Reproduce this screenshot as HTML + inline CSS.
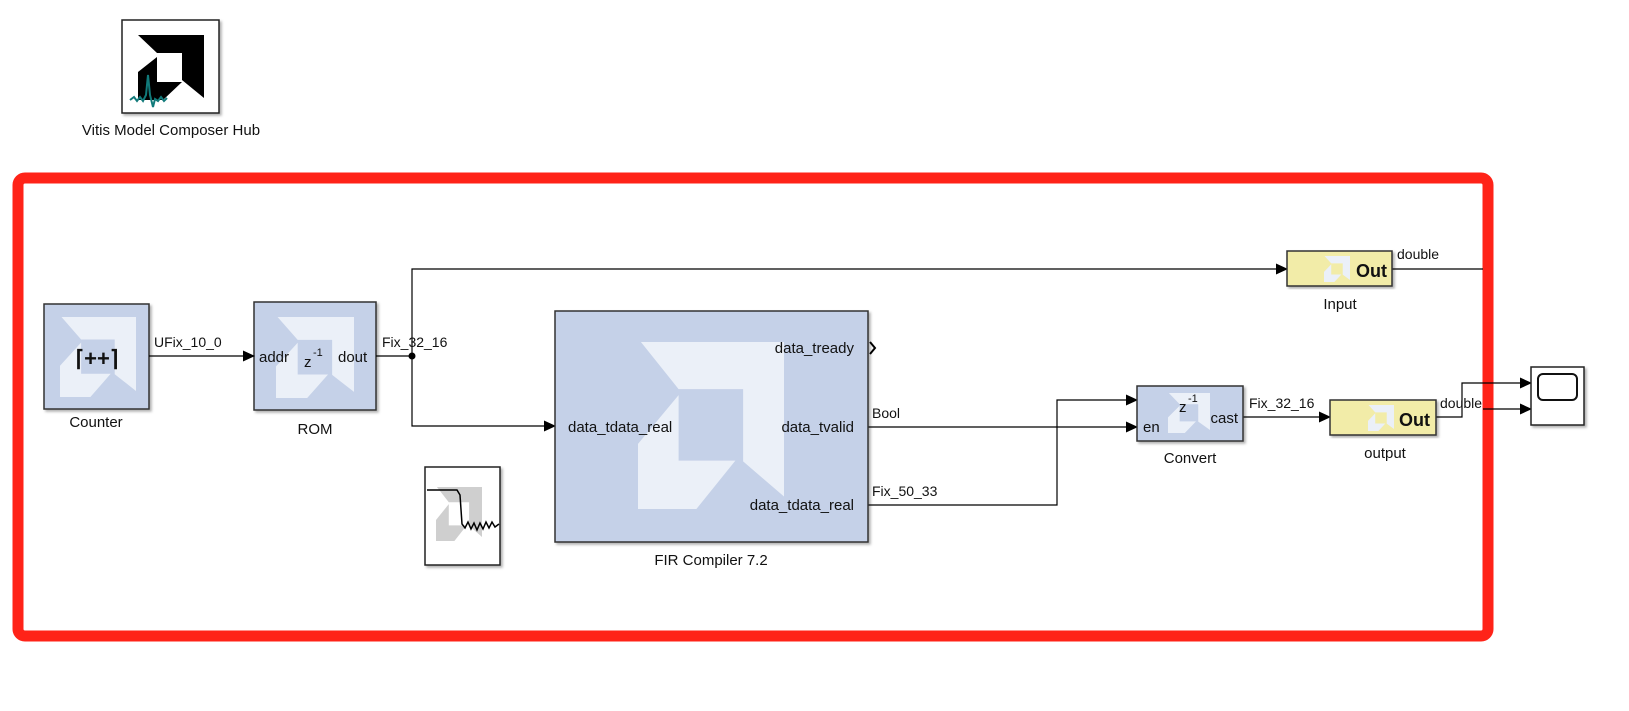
<!DOCTYPE html>
<html><head><meta charset="utf-8"><style>
body{margin:0;background:#fff;}
svg text{font-family:"Liberation Sans",sans-serif;fill:#111;}
</style></head><body>
<svg width="1629" height="706" viewBox="0 0 1629 706" xmlns="http://www.w3.org/2000/svg">
<defs>
<symbol id="logo" viewBox="0 0 1 1" preserveAspectRatio="none">
<polygon points="0.02,0 1,0 1,0.925 0.72,0.715 0.72,0.282 0.278,0.282"/>
<polygon points="0.278,0.318 0.278,0.71 0.667,0.71 0.4,1 0,1 0,0.61"/>
</symbol>
<filter id="sh" x="-5%" y="-5%" width="115%" height="115%"><feDropShadow dx="2" dy="2" stdDeviation="1.2" flood-color="#000" flood-opacity="0.3"/></filter>
<marker id="ar" markerWidth="12" markerHeight="12" refX="11" refY="6" orient="auto" markerUnits="userSpaceOnUse"><polygon points="0,0.5 12,6 0,11.5" fill="#000"/></marker>
</defs>

<!-- Hub -->
<rect x="122" y="20" width="97" height="93" fill="#fff" stroke="#222" stroke-width="1.5" filter="url(#sh)"/>
<polygon points="138,35 204,35 204,98 182,80 182,53 157,53" fill="#000"/>
<polygon points="157,57 157,82 182,82 163,100 138,100 138,72" fill="#000"/>
<polyline points="130,100 134,97 137,101 140,97 143,101 146,95 148,75 150,95 153,107 155,99 158,101 161,97 164,101 167,98" fill="none" stroke="#117a7a" stroke-width="2"/>
<text x="171" y="135" font-size="15" text-anchor="middle">Vitis Model Composer Hub</text>

<!-- Red border -->
<rect x="18" y="178" width="1470" height="458" rx="7" fill="none" stroke="#ff2318" stroke-width="11"/>

<!-- Counter -->
<rect x="44" y="304" width="105" height="105" fill="#c5d1e8" stroke="#333" stroke-width="1.5" filter="url(#sh)"/>
<svg x="60" y="317" width="76" height="80" fill="#ebf0f8"><use href="#logo"/></svg>
<text x="97" y="366" font-size="22" font-weight="bold" text-anchor="middle">⌈++⌉</text>
<text x="96" y="427" font-size="15" text-anchor="middle">Counter</text>

<!-- ROM -->
<rect x="254" y="302" width="122" height="108" fill="#c5d1e8" stroke="#333" stroke-width="1.5" filter="url(#sh)"/>
<svg x="276" y="317" width="78" height="81" fill="#ebf0f8"><use href="#logo"/></svg>
<text x="259" y="362" font-size="15">addr</text>
<text x="304" y="367" font-size="15">z</text>
<text x="313" y="356" font-size="11">-1</text>
<text x="338" y="362" font-size="15">dout</text>
<text x="315" y="434" font-size="15" text-anchor="middle">ROM</text>

<!-- Lines -->
<g stroke="#000" stroke-width="1.2" fill="none">
<line x1="149" y1="356" x2="254" y2="356" marker-end="url(#ar)"/>
<polyline points="376,356 412,356"/>
<polyline points="412,356 412,269 1287,269" marker-end="url(#ar)"/>
<polyline points="412,356 412,426 555,426" marker-end="url(#ar)"/>
<line x1="868" y1="427" x2="1137" y2="427" marker-end="url(#ar)"/>
<polyline points="868,505 1057,505 1057,400 1137,400" marker-end="url(#ar)"/>
<line x1="1243" y1="417" x2="1330" y2="417" marker-end="url(#ar)"/>
<line x1="1392" y1="269" x2="1483" y2="269"/>
<polyline points="1436,417 1462,417 1462,383 1531,383" marker-end="url(#ar)"/>
<line x1="1483" y1="409" x2="1531" y2="409" marker-end="url(#ar)"/>
</g>
<circle cx="412" cy="356" r="3.5" fill="#000"/>
<text x="154" y="347" font-size="14">UFix_10_0</text>
<text x="382" y="347" font-size="14">Fix_32_16</text>

<!-- FIR -->
<rect x="555" y="311" width="313" height="231" fill="#c5d1e8" stroke="#333" stroke-width="1.5" filter="url(#sh)"/>
<svg x="638" y="342" width="146" height="167" fill="#ebf0f8"><use href="#logo"/></svg>
<text x="854" y="353" font-size="15" text-anchor="end">data_tready</text>
<text x="854" y="432" font-size="15" text-anchor="end">data_tvalid</text>
<text x="854" y="510" font-size="15" text-anchor="end">data_tdata_real</text>
<text x="568" y="432" font-size="15">data_tdata_real</text>
<polyline points="870,342 875,348 870,354" fill="none" stroke="#000" stroke-width="2"/>
<text x="711" y="565" font-size="15" text-anchor="middle">FIR Compiler 7.2</text>
<text x="872" y="418" font-size="14">Bool</text>
<text x="872" y="496" font-size="14">Fix_50_33</text>

<!-- Filter icon -->
<rect x="425" y="467" width="75" height="98" fill="#fff" stroke="#222" stroke-width="1.5" filter="url(#sh)"/>
<svg x="436" y="487" width="46" height="54" fill="#cfcfcf"><use href="#logo"/></svg>
<polyline points="427,490 457,490 460,495 462,524 465,528 468,522 471,529 474,523 477,530 480,523 483,529 486,522 489,528 492,522 495,527 499,524" fill="none" stroke="#000" stroke-width="1.5"/>

<!-- Convert -->
<rect x="1137" y="386" width="106" height="55" fill="#c5d1e8" stroke="#333" stroke-width="1.5" filter="url(#sh)"/>
<svg x="1168" y="393" width="42" height="40" fill="#ebf0f8"><use href="#logo"/></svg>
<text x="1179" y="412" font-size="15">z</text>
<text x="1188" y="402" font-size="11">-1</text>
<text x="1143" y="432" font-size="15">en</text>
<text x="1238" y="423" font-size="15" text-anchor="end">cast</text>
<text x="1190" y="463" font-size="15" text-anchor="middle">Convert</text>
<text x="1249" y="408" font-size="14">Fix_32_16</text>

<!-- Input Out -->
<rect x="1287" y="251" width="105" height="35" fill="#f2eca8" stroke="#333" stroke-width="1.5" filter="url(#sh)"/>
<svg x="1324" y="256" width="26" height="26" fill="#ebf0f8"><use href="#logo"/></svg>
<text x="1387" y="277" font-size="18" font-weight="bold" text-anchor="end">Out</text>
<text x="1340" y="309" font-size="15" text-anchor="middle">Input</text>
<text x="1397" y="259" font-size="14">double</text>

<!-- output Out -->
<rect x="1330" y="400" width="106" height="35" fill="#f2eca8" stroke="#333" stroke-width="1.5" filter="url(#sh)"/>
<svg x="1368" y="405" width="26" height="26" fill="#ebf0f8"><use href="#logo"/></svg>
<text x="1430" y="426" font-size="18" font-weight="bold" text-anchor="end">Out</text>
<text x="1385" y="458" font-size="15" text-anchor="middle">output</text>
<text x="1440" y="408" font-size="14">double</text>

<!-- Scope -->
<rect x="1531" y="367" width="53" height="58" fill="#fff" stroke="#222" stroke-width="1.5" filter="url(#sh)"/>
<rect x="1538" y="374" width="39" height="26" rx="5" fill="#fff" stroke="#111" stroke-width="2"/>
</svg>
</body></html>
